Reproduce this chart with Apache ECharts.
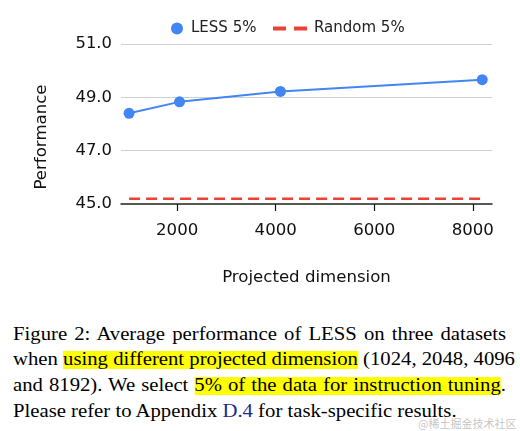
<!DOCTYPE html>
<html>
<head>
<meta charset="utf-8">
<script src="https://cdn.jsdelivr.net/npm/echarts@6.0.0/dist/echarts.min.js"></script>
<style>
  html, body { margin: 0; padding: 0; background: #fff; }
  #wrap { position: relative; width: 520px; height: 431px; overflow: hidden; }
  #main { position: absolute; left: 0; top: 0; width: 520px; height: 300px; }
  #cap { position: absolute; left: 13px; top: 320.5px; width: 464px;
         transform: scaleX(1.0625); transform-origin: 0 0;
         font-family: "Liberation Serif", "Times New Roman", serif; font-size: 19.5px; color: #000; }
  .ln { height: 25.8px; line-height: 25.8px; white-space: nowrap; }
  .j { text-align: justify; text-align-last: justify; }
  .hl { background: linear-gradient(to bottom, transparent 3px, #ffff00 3px); }
  .lk { color: #1b2a8c; }
  #wm { position: absolute; left: 418px; top: 415px; font-family: "Noto Sans CJK SC", sans-serif;
        font-size: 11px; color: rgba(170,170,170,0.7); white-space: nowrap; }
</style>
</head>
<body>
<div id="wrap">
  <div id="main"></div>
  <div id="cap">
    <div class="ln j">Figure 2: Average performance of LESS on three datasets</div>
    <div class="ln j">when <span class="hl">using different projected dimension</span> (1024, 2048, 4096</div>
    <div class="ln j">and 8192). We select <span class="hl">5% of the data for instruction tuning</span>.</div>
    <div class="ln">Please refer to Appendix <span class="lk">D.4</span> for task-specific results.</div>
  </div>
  <div id="wm">@稀土掘金技术社区</div>
</div>
<script type="text/javascript">
// data
var dims = [1024, 2048, 4096, 8192];
var lessPerf = [48.40, 48.83, 49.22, 49.66];
var randomPerf = 45.2;
var xTicks = [2000, 4000, 6000, 8000];
var yTicks = [45, 47, 49, 51];

var font = 'DejaVu Sans';
var myChart = echarts.init(document.getElementById('main'));

var option = {
    animation: false,
    textStyle: { fontFamily: font },
    legend: [
        {
            left: 166, top: 16,
            itemWidth: 12, itemHeight: 12,
            textStyle: { fontFamily: font, fontSize: 15, color: '#222', padding: [0, 0, 0, 3] },
            data: [{ name: 'LESS 5%', icon: 'circle' }]
        },
        {
            left: 268, top: 16,
            itemWidth: 34, itemHeight: 4,
            textStyle: { fontFamily: font, fontSize: 15, color: '#222', padding: [0, 0, 0, 2] },
            data: [{ name: 'Random 5%', icon: 'path://M0,0h13v4h-13z M21,0h13v4h-13z',
                     itemStyle: { color: '#EA4335', borderWidth: 0 } }]
        }
    ],
    grid: { left: 121, right: 28, top: 44, bottom: 96 },
    xAxis: {
        type: 'value',
        min: 860,
        max: 8390,
        name: 'Projected dimension',
        nameLocation: 'middle',
        nameGap: 65,
        nameTextStyle: { fontFamily: font, fontSize: 16.6, color: '#111' },
        axisLine: { show: true, onZero: false, lineStyle: { color: '#222', width: 1.5 } },
        axisTick: { show: true, length: 7, customValues: xTicks, lineStyle: { color: '#111', width: 1.2 } },
        axisLabel: {
            customValues: xTicks, fontFamily: font, fontSize: 16.6, color: '#111', margin: 18,
            formatter: function (v) { return String(v); }
        },
        splitLine: { show: false }
    },
    yAxis: {
        type: 'value',
        min: 45,
        max: 51,
        interval: 2,
        name: 'Performance',
        nameLocation: 'middle',
        nameGap: 71,
        nameTextStyle: { fontFamily: font, fontSize: 16.6, color: '#111', padding: [0, 26, 0, 0] },
        axisLine: { show: false },
        axisTick: { show: false },
        axisLabel: {
            customValues: yTicks,
            fontFamily: font, fontSize: 16.4, color: '#111', margin: 9,
            formatter: function (v) { return v.toFixed(1); }
        },
        splitLine: { showMinLine: false, lineStyle: { color: '#d0d0d0', width: 1 } }
    },
    series: [
        {
            name: 'LESS 5%',
            type: 'line',
            data: dims.map(function (d, i) { return [d, lessPerf[i]]; }),
            symbol: 'circle',
            symbolSize: 11,
            itemStyle: { color: '#4285F4' },
            lineStyle: { color: '#4285F4', width: 2 },
            z: 3
        },
        {
            name: 'Random 5%',
            type: 'line',
            data: [[dims[0], randomPerf], [dims[dims.length - 1], randomPerf]],
            symbol: 'none',
            itemStyle: { color: '#EA4335' },
            lineStyle: { color: '#EA4335', width: 2.5, type: [11, 6] },
            z: 2
        }
    ]
};
myChart.setOption(option);
</script>
</body>
</html>
